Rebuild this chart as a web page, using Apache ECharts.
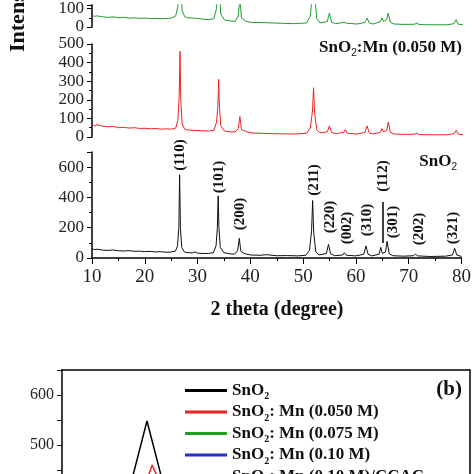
<!DOCTYPE html>
<html><head><meta charset="utf-8">
<script src="https://cdn.jsdelivr.net/npm/echarts@6/dist/echarts.min.js"></script>
<style>html,body{margin:0;padding:0;background:#fff}#chart{width:474px;height:474px}</style>
</head><body><div id="chart"></div>
<script>
const xTicks = [10, 20, 30, 40, 50, 60, 70, 80];
const blackPattern = [[10,62],[10.5,55],[11,58],[12,52],[13,50],[14,53],[15,48],[16,46],[17,49],[18,44],[19,45],[20,42],[21,44],[22,40],[23,42],[24,38],[25,40],[25.8,45],[26.2,80],[26.45,200],[26.6,550],[26.75,200],[27,70],[27.5,40],[28,36],[29,34],[29.5,40],[30,32],[31,30],[32,30],[33,35],[33.5,80],[33.75,200],[33.9,410],[34.05,200],[34.3,70],[35,35],[36,28],[37,25],[37.6,50],[37.9,130],[38.2,45],[38.8,30],[39,38],[40,20],[42,18],[43,22],[45,15],[47,16],[49,14],[50.5,18],[51.2,50],[51.6,180],[51.8,380],[52,170],[52.4,40],[53,20],[54.4,30],[54.8,90],[55.2,28],[56,15],[57.5,20],[57.8,35],[58.2,18],[60,14],[61.5,25],[61.9,80],[62.3,25],[63,14],[64.4,25],[64.7,70],[65,30],[65.6,40],[65.9,110],[66.3,28],[67,15],[69,12],[70.9,15],[71.3,25],[71.7,14],[74,10],[77,12],[78.3,20],[78.7,65],[79.1,20],[80,10]];
const redPattern = [[10,70],[10.5,60],[11,66],[12,58],[13,55],[14,57],[15,50],[16,52],[17,48],[18,50],[19,46],[20,47],[21,44],[22,46],[23,42],[24,44],[25,42],[25.8,48],[26.2,90],[26.45,220],[26.6,460],[26.75,200],[27,70],[27.5,42],[28,38],[29,36],[30,35],[31,33],[32,32],[33,36],[33.5,80],[33.75,170],[33.9,310],[34.05,160],[34.3,60],[35,32],[36,28],[37,27],[37.6,45],[37.9,110],[38.2,40],[39,30],[40,22],[42,20],[44,18],[46,17],[48,16],[50.5,20],[51.2,50],[51.6,140],[51.8,265],[52,130],[52.4,40],[53,22],[54.4,28],[54.8,60],[55.2,25],[56,18],[57.5,25],[57.8,40],[58.2,20],[60,16],[61.5,25],[61.9,60],[62.3,22],[63,16],[64.4,25],[64.7,45],[65,28],[65.6,35],[65.9,80],[66.3,25],[67,16],[69,14],[70.9,15],[71.3,22],[71.7,13],[74,12],[77,12],[78.3,18],[78.7,35],[79.1,15],[80,12]];
const greenPattern = [[10,62],[10.5,58],[11,60],[12,55],[13,52],[14,55],[15,50],[16,52],[17,48],[18,50],[19,47],[20,48],[21,46],[22,47],[23,45],[24,46],[25,48],[25.8,60],[26.2,110],[26.45,260],[26.6,500],[26.75,240],[27,90],[27.5,55],[28,50],[29,48],[30,46],[31,42],[32,40],[33,45],[33.5,100],[33.75,220],[33.9,400],[34.05,200],[34.3,70],[35,38],[36,33],[37,30],[37.6,60],[37.9,160],[38.2,50],[39,32],[40,25],[42,24],[44,22],[46,20],[48,18],[50.5,22],[51.2,60],[51.6,200],[51.8,380],[52,180],[52.4,45],[53,22],[54.4,30],[54.8,75],[55.2,25],[56,18],[57.5,25],[57.8,35],[58.2,20],[60,16],[61.5,25],[61.9,48],[62.3,22],[63,16],[64.4,28],[64.7,50],[65,30],[65.6,40],[65.9,75],[66.3,25],[67,16],[69,14],[70.9,15],[71.3,22],[71.7,13],[74,12],[77,12],[78.3,18],[78.7,40],[79.1,15],[80,12]];
const zoomNames = ['SnO{s|2}', 'SnO{s|2}: Mn (0.050 M)', 'SnO{s|2}: Mn (0.075 M)', 'SnO{s|2}: Mn (0.10 M)', 'SnO{s|2}: Mn (0.10 M)/CCAC'];
const zoomColors = ['#000000', '#ee2222', '#22a022', '#2233cc', '#ee3aa8'];
const zoomPeaks = [
  [[26.1,300],[26.45,350],[26.6,548],[26.75,350],[27.1,300]],
  [[26.1,300],[26.5,330],[26.63,460],[26.8,330],[27.1,300]],
  [[26.1,300],[26.5,320],[26.65,400],[26.8,320],[27.1,300]],
  [[26.1,300],[26.5,310],[26.65,380],[26.8,310],[27.1,300]],
  [[26.1,300],[26.52,330],[26.65,420],[26.8,330],[27.1,300]]
];
const hklLabels = [['(110)',180,155],['(101)',219,177],['(200)',240,214],['(211)',314,180],['(220)',330,217],['(002)',347,228],['(310)',367,220],['(112)',383,176],['(301)',393,222],['(202)',419,229],['(321)',453,228]];

const serif = 'Liberation Serif';
const chart = echarts.init(document.getElementById('chart'));
function yAx(gi, min, max, interval) {
  return {gridIndex: gi, type: 'value', min: min, max: max, interval: interval,
    axisLine: {show: true, lineStyle: {color: '#000', width: 1.5}},
    axisTick: {inside: false, length: 5, lineStyle: {color: '#000'}},
    minorTick: {show: true, splitNumber: 2, length: 3, lineStyle: {color: '#000'}},
    splitLine: {show: false},
    axisLabel: {fontFamily: serif, fontSize: 17, color: '#222', margin: 8}};
}
function xAx(gi, show) {
  return {gridIndex: gi, type: 'value', min: 10, max: 80, interval: 10,
    axisLine: {show: show, onZero: false, lineStyle: {color: '#000', width: 1.5}},
    axisTick: {show: show, length: 6, lineStyle: {color: '#000'}},
    minorTick: {show: show, splitNumber: 2, length: 3, lineStyle: {color: '#000'}},
    splitLine: {show: false},
    axisLabel: {show: show, fontFamily: serif, fontSize: 19, color: '#222', margin: 10,
      formatter: v => xTicks.includes(v) ? String(v) : ''}};
}
const graphic = [
  {type: 'text', x: 18, y: 52, rotation: Math.PI / 2, style: {text: 'Intensity (a.u.)', fontFamily: serif, fontWeight: 'bold', fontSize: 22, fill: '#111', textAlign: 'left', textVerticalAlign: 'middle'}},
  {type: 'text', x: 462, y: 48, style: {text: 'SnO{s|2}:Mn (0.050 M)', rich: {s: {fontSize: 10, verticalAlign: 'bottom', padding: [10,0,0,0]}}, fontFamily: serif, fontWeight: 'bold', fontSize: 17, fill: '#111', textAlign: 'right', textVerticalAlign: 'middle'}},
  {type: 'text', x: 457, y: 162, style: {text: 'SnO{s|2}', rich: {s: {fontSize: 10, padding: [10,0,0,0]}}, fontFamily: serif, fontWeight: 'bold', fontSize: 17, fill: '#111', textAlign: 'right', textVerticalAlign: 'middle'}},
  {type: 'text', x: 277, y: 310, style: {text: '2 theta (degree)', fontFamily: serif, fontWeight: 'bold', fontSize: 20, fill: '#111', textAlign: 'center', textVerticalAlign: 'middle'}},
  {type: 'text', x: 462, y: 390, style: {text: '(b)', fontFamily: serif, fontWeight: 'bold', fontSize: 21, fill: '#111', textAlign: 'right', textVerticalAlign: 'middle'}},
  {type: 'line', shape: {x1: 383, y1: 202, x2: 383, y2: 243}, style: {stroke: '#000', lineWidth: 1.5}}
];
hklLabels.forEach(h => graphic.push({type: 'text', x: h[1], y: h[2], rotation: Math.PI / 2,
  style: {text: h[0], fontFamily: serif, fontWeight: 'bold', fontSize: 15, fill: '#111', textAlign: 'center', textVerticalAlign: 'middle'}}));

const series = [
  {type: 'line', xAxisIndex: 0, yAxisIndex: 0, data: greenPattern, showSymbol: false, lineStyle: {color: '#1f9a2e', width: 1}},
  {type: 'line', xAxisIndex: 1, yAxisIndex: 1, data: redPattern, showSymbol: false, lineStyle: {color: '#ee2222', width: 1}},
  {type: 'line', xAxisIndex: 2, yAxisIndex: 2, data: blackPattern, showSymbol: false, lineStyle: {color: '#111', width: 1}}
];
zoomNames.forEach((n, i) => series.push({type: 'line', name: n, xAxisIndex: 3, yAxisIndex: 3, data: zoomPeaks[i], showSymbol: false, color: zoomColors[i], z: 5 - i, lineStyle: {color: zoomColors[i], width: i === 4 ? 3 : 1.5}}));

chart.setOption({
  animation: false,
  grid: [
    {left: 92, width: 371, top: 0, height: 27},
    {left: 92, width: 371, top: 44, height: 93},
    {left: 92, width: 371, top: 152, height: 106},
    {left: 62, width: 408, top: 370, height: 104}
  ],
  xAxis: [xAx(0, false), xAx(1, false), xAx(2, true),
    {gridIndex: 3, type: 'value', min: 26.1, max: 28.5, position: 'top',
      axisLine: {show: true, lineStyle: {color: '#000', width: 1.5}}, axisTick: {show: false}, axisLabel: {show: false}, splitLine: {show: false}}],
  yAxis: [yAx(0, 0, 120, 100), yAx(1, 0, 500, 100), yAx(2, 0, 700, 200),
    Object.assign(yAx(3, 442, 650, 50), {interval: null, minorTick: {show: false},
      axisLabel: {fontFamily: serif, fontSize: 16, color: '#222', margin: 8, formatter: v => (v === 500 || v === 600) ? String(v) : ''}}),
    {gridIndex: 3, type: 'value', min: 442, max: 650, position: 'right', axisLine: {show: true, lineStyle: {color: '#000', width: 1.5}}, axisTick: {show: false}, axisLabel: {show: false}, splitLine: {show: false}}],
  legend: {orient: 'vertical', left: 180, top: 377, height: 200, itemWidth: 42, itemHeight: 3, itemGap: 2,
    data: zoomNames, icon: 'rect',
    textStyle: {fontFamily: serif, fontWeight: 'bold', fontSize: 17, color: '#111', rich: {s: {fontSize: 10, fontWeight: 'bold', fontFamily: serif, padding: [12,0,0,0]}}}},
  graphic: graphic,
  series: series
});
</script></body></html>
